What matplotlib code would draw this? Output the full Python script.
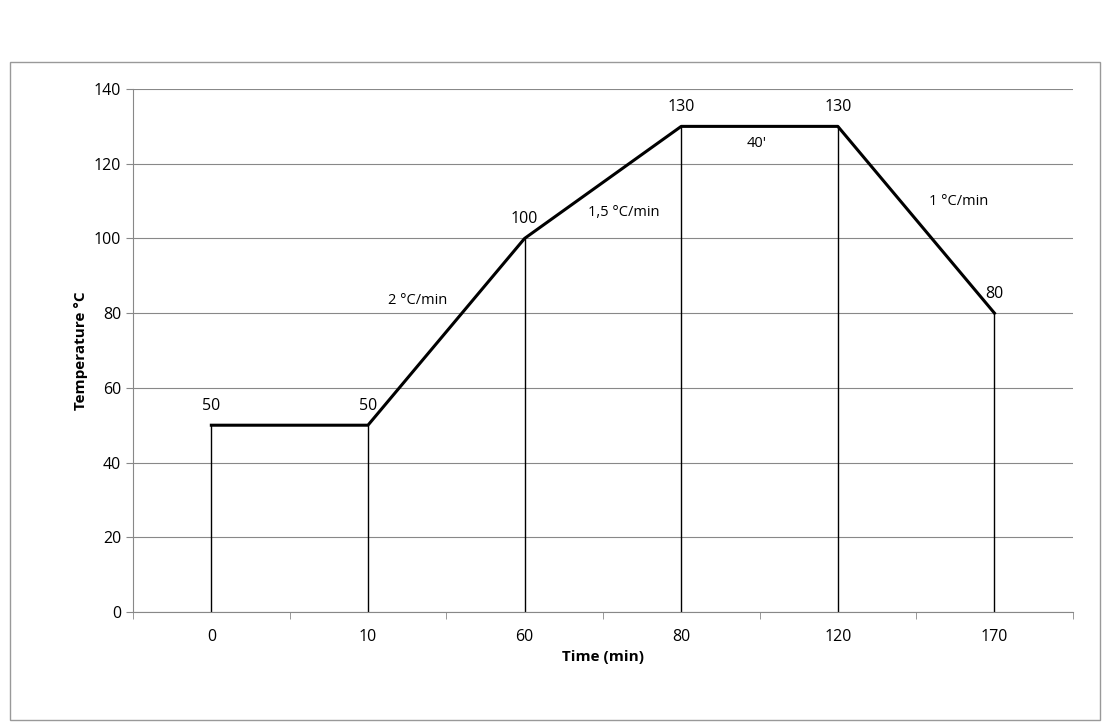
import matplotlib.pyplot as plt
from matplotlib.patches import Rectangle

times = ["0", "10", "60", "80", "120", "170"]
temps = [50, 50, 100, 130, 130, 80]
notes = [("2 °C/min", 1.32, 83.5), ("1,5 °C/min", 2.63, 107), ("40'", 3.48, 125.5), ("1 °C/min", 4.77, 110)]

plt.rcParams['font.family'] = ['Open Sans', 'DejaVu Sans']
fig = plt.figure(figsize=(11.03, 7.25), dpi=100)
fig.patches.append(Rectangle((0.009, 0.007), 0.988, 0.908, transform=fig.transFigure,
                             fill=False, edgecolor='#999999', linewidth=1))
ax = fig.add_axes([0.1206, 0.1559, 0.852, 0.7213])

x = list(range(len(times)))
ax.plot(x, temps, color='black', linewidth=2.2)
ax.vlines(x, 0, temps, color='black', linewidth=1)
for xi, t in zip(x, temps):
    ax.text(xi, t + 3, str(t), ha='center', va='bottom', fontsize=11.5)
for txt, xi, yi in notes:
    ax.text(xi, yi, txt, ha='center', va='center', fontsize=10.5)

ax.set_xlim(-0.5, 5.5)
ax.set_ylim(0, 140)
ax.set_yticks(range(0, 141, 20))
ax.set_xticks(x)
ax.set_xticklabels(times, fontsize=11.5)
ax.set_xticks([i - 0.5 for i in range(7)], minor=True)
ax.tick_params(axis='x', which='major', length=0, pad=12)
ax.tick_params(axis='x', which='minor', length=5, color='#888888')
ax.tick_params(axis='y', labelsize=11.5, length=5, color='#888888')
ax.grid(axis='y', color='#888888', linewidth=0.8)
ax.set_axisbelow(True)
for s in ['top', 'right']:
    ax.spines[s].set_visible(False)
for s in ['left', 'bottom']:
    ax.spines[s].set_color('#888888')
ax.set_xlabel("Time (min)", fontsize=11, fontweight='bold')
ax.set_ylabel("Temperature °C", fontsize=11, fontweight='bold')

fig.savefig("out.png")
